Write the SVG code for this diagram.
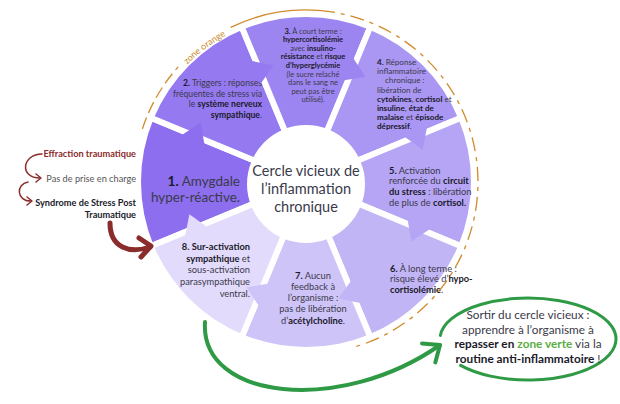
<svg xmlns="http://www.w3.org/2000/svg" width="620" height="404" viewBox="0 0 620 404">
<style>
text{font-family:Lato,"Open Sans",sans-serif;fill:#3a3a4a}
.b{font-weight:bold;fill:#1a1a2a}
.seg{stroke:#fff;stroke-width:6;stroke-linejoin:round}
.s9{font-size:8.6px}
.s95{font-size:9.3px}
.s85{font-size:8.1px}
.s76{font-size:7.5px}
.lt{font-size:9.2px}
.red{fill:none;stroke:#8b2c2c;stroke-linecap:round;stroke-linejoin:round}
.grn{fill:none;stroke:#2f9a45;stroke-linecap:round;stroke-linejoin:round}
.org{fill:none;stroke:#d08a2a;stroke-width:1.3}
</style>
<rect width="620" height="404" fill="#fff"/>

<g id="seg1">
<path class="seg" fill="#8c6eee" d="M306 182L150.79 246.29A168 168 0 0 1 150.79 117.71Z"/>
<text x="240" y="186" text-anchor="end" style="font-size:13.5px"><tspan class="b">1.</tspan> Amygdale</text>
<text x="240" y="202" text-anchor="end" style="font-size:13.5px">hyper-réactive.</text>
</g>
<g id="seg2">
<path class="seg" fill="#9579f0" d="M306 182L150.79 117.71A168 168 0 0 1 241.71 26.79Z"/>
<g class="s9" text-anchor="end">
<text x="262" y="86"><tspan class="b">2.</tspan> Triggers : réponses</text>
<text x="262" y="96.5">fréquentes de stress via</text>
<text x="262" y="107">le <tspan class="b">système nerveux</tspan></text>
<text x="262" y="117.5"><tspan class="b">sympathique</tspan>.</text>
</g>
</g>
<g id="seg3">
<path class="seg" fill="#9d85f1" d="M306 182L241.71 26.79A168 168 0 0 1 370.29 26.79Z"/>
<g class="s76" text-anchor="middle">
<text x="313" y="33.5"><tspan class="b">3.</tspan> À court terme :</text>
<text x="313" y="42.1" class="b">hypercortisolémie</text>
<text x="313" y="50.7">avec <tspan class="b">insulino-</tspan></text>
<text x="313" y="59.3"><tspan class="b">résistance</tspan> et <tspan class="b">risque</tspan></text>
<text x="313" y="67.9" class="b">d’hyperglycémie</text>
<text x="313" y="76.5">(le sucre relaché</text>
<text x="313" y="85.1">dans le sang ne</text>
<text x="313" y="93.7">peut pas être</text>
<text x="313" y="102.3">utilisé).</text>
</g>
</g>
<g id="seg4">
<path class="seg" fill="#aa96f3" d="M306 182L370.29 26.79A168 168 0 0 1 461.21 117.71Z"/>
<g class="s85">
<text x="377" y="65"><tspan class="b">4.</tspan> Réponse</text>
<text x="377" y="74.2">inflammatoire</text>
<text x="385" y="83.4">chronique :</text>
<text x="377" y="92.6">libération de</text>
<text x="377" y="101.8"><tspan class="b">cytokines</tspan>, <tspan class="b">cortisol</tspan> et</text>
<text x="377" y="111"><tspan class="b">insuline</tspan>, <tspan class="b">état de</tspan></text>
<text x="377" y="120.2"><tspan class="b">malaise</tspan> et <tspan class="b">épisode</tspan></text>
<text x="377" y="129.4"><tspan class="b">dépressif</tspan>.</text>
</g>
</g>
<g id="seg5">
<path class="seg" fill="#b5a5f4" d="M306 182L461.21 117.71A168 168 0 0 1 461.21 246.29Z"/>
<g class="s95">
<text x="389" y="173.5"><tspan class="b">5.</tspan> Activation</text>
<text x="389" y="184.2">renforcée du <tspan class="b">circuit</tspan></text>
<text x="389" y="194.8"><tspan class="b">du stress</tspan> : libération</text>
<text x="389" y="205.5">de plus de <tspan class="b">cortisol.</tspan></text>
</g>
</g>
<g id="seg6">
<path class="seg" fill="#c2b5f6" d="M306 182L461.21 246.29A168 168 0 0 1 370.29 337.21Z"/>
<g class="s95">
<text x="390" y="271.5"><tspan class="b">6.</tspan> À long terme :</text>
<text x="390" y="282">risque élevé d’<tspan class="b">hypo-</tspan></text>
<text x="390" y="292.5"><tspan class="b">cortisolémie</tspan>.</text>
</g>
</g>
<g id="seg7">
<path class="seg" fill="#cfc4f8" d="M306 182L370.29 337.21A168 168 0 0 1 241.71 337.21Z"/>
<g class="s95" text-anchor="middle">
<text x="313" y="278.5"><tspan class="b">7.</tspan> Aucun</text>
<text x="313" y="289.5">feedback à</text>
<text x="313" y="300.5">l’organisme :</text>
<text x="313" y="312">pas de libération</text>
<text x="313" y="323.5">d’<tspan class="b">acétylcholine</tspan>.</text>
</g>
</g>
<g id="seg8">
<path class="seg" fill="#e3dbfb" d="M306 182L241.71 337.21A168 168 0 0 1 150.79 246.29Z"/>
<g class="s95" text-anchor="end">
<text x="250" y="250" class="b">8. Sur-activation</text>
<text x="250" y="261.8"><tspan class="b">sympathique</tspan> et</text>
<text x="250" y="273.4">sous-activation</text>
<text x="250" y="285">parasympathique</text>
<text x="250" y="296.5">ventral.</text>
</g>
</g>

<g id="center">
<circle cx="306" cy="184" r="59" fill="#fff"/>
<g text-anchor="middle" style="font-size:14.5px">
<text x="306" y="176">Cercle vicieux de</text>
<text x="306" y="194">l’inflammation</text>
<text x="306" y="212">chronique</text>
</g>
</g>

<g id="zone-orange">
<path class="org" stroke-dasharray="12 5" d="M142.42 128.85A172 172 0 0 1 178.18 66.91"/>
<path class="org" d="M230.6 27.41A172 172 0 0 1 320.99 10.66"/>
<path class="org" stroke-dasharray="14 6 4 6" d="M320.99 10.66A172 172 0 0 1 356.29 346.48"/>
<path id="zoPath" fill="none" d="M176.22 76.9A167 167 0 0 1 240.75 28.28"/>
<text style="font-size:9px;fill:#c98a2c"><textPath href="#zoPath" startOffset="50%" text-anchor="middle">zone orange</textPath></text>
</g>

<g id="trauma" class="lt">
<text x="136" y="156.5" text-anchor="end" class="b" style="fill:#8b2c2c">Effraction traumatique</text>
<text x="136" y="181.5" text-anchor="end" style="fill:#555">Pas de prise en charge</text>
<text x="136" y="205.5" text-anchor="end" class="b">Syndrome de Stress Post</text>
<text x="136" y="218" text-anchor="end" class="b">Traumatique</text>
</g>

<g id="exit">
<path class="grn" stroke-width="3" d="M440.33 335.43A88 41 0 1 1 460.6 365.4"/>
<g text-anchor="middle" style="font-size:11.8px">
<text x="528" y="319">Sortir du cercle vicieux :</text>
<text x="528" y="333.5">apprendre à l’organisme à</text>
<text x="528" y="348"><tspan class="b">repasser en</tspan> <tspan class="b" style="fill:#5aae44">zone verte</tspan> via la</text>
<text x="528" y="362.5"><tspan class="b">routine anti-inflammatoire</tspan> !</text>
</g>
</g>

<g id="connectors">
<polygon fill="#e3dbfb" points="208.12,227.64 184.55,238.63 189.4,214.34"/>
<polygon fill="#8c6eee" points="204.51,145.06 180.08,136.17 200.69,122.42"/>
<polygon fill="#9579f0" points="260.36,84.12 249.37,60.55 273.66,65.4"/>
<polygon fill="#9d85f1" points="342.94,80.51 351.83,56.08 365.58,76.69"/>
<polygon fill="#aa96f3" points="403.88,136.36 427.45,125.37 422.6,149.66"/>
<polygon fill="#b5a5f4" points="407.49,218.94 431.92,227.83 411.31,241.58"/>
<polygon fill="#c2b5f6" points="351.64,279.88 362.63,303.45 338.34,298.6"/>
<polygon fill="#cfc4f8" points="269.06,283.49 260.17,307.92 246.42,287.31"/>
<path class="red" stroke-width="1.5" d="M42 154C22 154 19 178 40 178"/>
<path class="red" stroke-width="1.5" d="M36 174L41 178L36 182"/>
<path class="red" stroke-width="1.5" d="M28 182C16 184 16 201 31 201"/>
<path class="red" stroke-width="1.5" d="M27 197L32 201L27 205"/>
<path class="red" stroke-width="5" d="M110 223C110 248 130 254 150 247"/>
<path class="red" stroke-width="5" d="M139 238L151 246L141 257"/>
<path class="grn" stroke-width="4" d="M205 322C200 400 340 415 440 345"/>
<path class="grn" stroke-width="4" d="M422 343.4L440 345L435.3 362.4"/>
</g>
</svg>
